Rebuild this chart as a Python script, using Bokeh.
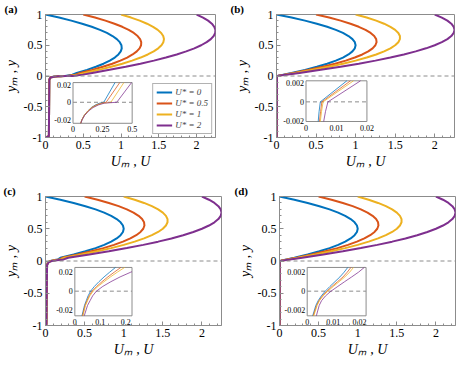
from bokeh.plotting import figure
from bokeh.models import Range1d, Span, Title, FixedTicker, Legend, LegendItem
from bokeh.layouts import column, row
from bokeh.embed import file_html
from bokeh.resources import INLINE
from bokeh.core.properties import value

FONT = "Liberation Serif"
GRAY = "#8c8c8c"
COLORS = ["#0072BD", "#D95319", "#EDB120", "#7E2F8E"]
LEGEND_LABELS = ["U* = 0", "U* = 0.5", "U* = 1", "U* = 2"]

x_ticks = [0, 0.5, 1, 1.5, 2]
x_tick_labels = ["0", "0.5", "1", "1.5", "2"]
y_ticks = [-1, -0.5, 0, 0.5, 1]
y_tick_labels = ["-1", "-0.5", "0", "0.5", "1"]

# ---- free-flow region (y >= 0.05) ----
y_upper = [0.05, 0.10, 0.15, 0.20, 0.25, 0.30, 0.35, 0.40, 0.45, 0.50,
           0.55, 0.60, 0.65, 0.70, 0.75, 0.80, 0.85, 0.90, 0.95, 1.00]
U_upper_a_0 = [0.413, 0.549, 0.667, 0.768, 0.851, 0.917, 0.965, 0.996, 1.009, 1.005,
               0.983, 0.944, 0.887, 0.813, 0.721, 0.612, 0.485, 0.341, 0.179, 0.0]
U_upper_a_05 = [0.457, 0.617, 0.759, 0.884, 0.991, 1.081, 1.153, 1.208, 1.245, 1.265,
                1.267, 1.252, 1.219, 1.169, 1.101, 1.016, 0.913, 0.793, 0.655, 0.5]
U_upper_a_1 = [0.52, 0.703, 0.868, 1.016, 1.146, 1.259, 1.354, 1.432, 1.492, 1.535,
               1.56, 1.568, 1.558, 1.531, 1.486, 1.424, 1.344, 1.247, 1.132, 1.0]
U_upper_a_2 = [0.618, 0.848, 1.061, 1.256, 1.434, 1.594, 1.737, 1.862, 1.970, 2.06,
               2.133, 2.188, 2.226, 2.246, 2.249, 2.234, 2.202, 2.152, 2.085, 2.0]
U_upper_bcd_0 = [0.19, 0.36, 0.51, 0.64, 0.75, 0.84, 0.91, 0.96, 0.99, 1.0,
                 0.99, 0.96, 0.91, 0.84, 0.75, 0.64, 0.51, 0.36, 0.19, 0.0]
U_upper_bcd_05 = [0.215, 0.41, 0.585, 0.74, 0.875, 0.99, 1.085, 1.16, 1.215, 1.25,
                  1.265, 1.26, 1.235, 1.19, 1.125, 1.04, 0.935, 0.81, 0.665, 0.5]
U_upper_bcd_1 = [0.24, 0.46, 0.66, 0.84, 1.0, 1.14, 1.26, 1.36, 1.44, 1.5,
                 1.54, 1.56, 1.56, 1.54, 1.5, 1.44, 1.36, 1.26, 1.14, 1.0]
U_upper_bcd_2 = [0.29, 0.56, 0.81, 1.04, 1.25, 1.44, 1.61, 1.76, 1.89, 2.0,
                 2.09, 2.16, 2.21, 2.24, 2.25, 2.24, 2.21, 2.16, 2.09, 2.0]

# ---- porous region far from the interface ----
far_y_a = [-1.0, -0.98, -0.06]
far_U_a = [0.0, 0.045, 0.05]
far_y_b = [-1.0, -0.99]
far_U_b = [0.0, 0.0035]
far_y_c = [-1.0, -0.98, -0.06]
far_U_c = [0.0, 0.012, 0.02]
far_y_d = [-1.0, -0.99]
far_U_d = [0.0, 0.0015]

# ---- near the interface (shown in the insets) ----
near_y_a = [-0.024, -0.02, -0.015, -0.01, -0.006, -0.003, -0.001, 0.0, 0.0225]
near_U_a_0 = [0.065, 0.075, 0.095, 0.125, 0.155, 0.19, 0.225, 0.26, 0.355]
near_U_a_05 = [0.065, 0.075, 0.095, 0.125, 0.158, 0.197, 0.24, 0.28, 0.395]
near_U_a_1 = [0.065, 0.075, 0.095, 0.127, 0.162, 0.205, 0.255, 0.32, 0.43]
near_U_a_2 = [0.066, 0.077, 0.098, 0.132, 0.17, 0.215, 0.265, 0.37, 0.495]

near_y_b = [-0.00205, -0.001, 0.0, 0.0022]
near_U_b_0 = [0.0040, 0.0043, 0.0047, 0.0134]
near_U_b_05 = [0.0044, 0.0048, 0.0052, 0.0146]
near_U_b_1 = [0.0047, 0.0051, 0.0056, 0.0156]
near_U_b_2 = [0.0058, 0.0064, 0.0072, 0.0179]

near_y_c = [-0.026, -0.015, -0.01, -0.005, 0.0, 0.005, 0.01, 0.015, 0.02, 0.025]
near_y_c_2 = [-0.026, -0.015, -0.01, -0.005, 0.0, 0.005, 0.01, 0.015, 0.02, 0.0205]
near_U_c_0 = [0.028, 0.038, 0.045, 0.052, 0.062, 0.077, 0.095, 0.115, 0.137, 0.160]
near_U_c_05 = [0.030, 0.040, 0.048, 0.056, 0.068, 0.086, 0.107, 0.130, 0.155, 0.181]
near_U_c_1 = [0.032, 0.042, 0.050, 0.059, 0.072, 0.091, 0.115, 0.140, 0.167, 0.196]
near_U_c_2 = [0.037, 0.050, 0.060, 0.070, 0.085, 0.110, 0.142, 0.178, 0.220, 0.225]

near_y_d = [-0.0026, -0.0015, -0.001, -0.0005, 0.0, 0.0005, 0.001, 0.0015, 0.002, 0.0025]
near_U_d_0 = [0.0021, 0.0033, 0.0042, 0.0054, 0.0069, 0.0087, 0.0106, 0.0125, 0.0141, 0.0155]
near_U_d_05 = [0.0023, 0.0036, 0.0045, 0.0058, 0.0075, 0.0095, 0.0116, 0.0137, 0.0153, 0.0167]
near_U_d_1 = [0.0025, 0.0038, 0.0047, 0.0061, 0.0079, 0.0100, 0.0122, 0.0144, 0.0162, 0.0177]
near_U_d_2 = [0.0035, 0.0046, 0.0055, 0.0070, 0.0091, 0.0117, 0.0143, 0.0170, 0.0196, 0.0218]

# inset axes ranges and tick labels
ins_x_a, ins_y_a = (0, 0.5), (-0.024, 0.0225)
ins_x_b, ins_y_b = (0, 0.02), (-0.00205, 0.0022)
ins_x_c, ins_y_c = (0, 0.225), (-0.026, 0.025)
ins_x_d, ins_y_d = (0, 0.0225), (-0.0026, 0.0025)
ins_xt_a, ins_xl_a = [0, 0.25, 0.5], ["0", "0.25", "0.5"]
ins_xt_b, ins_xl_b = [0, 0.01, 0.02], ["0", "0.01", "0.02"]
ins_xt_c, ins_xl_c = [0, 0.1, 0.2], ["0", "0.1", "0.2"]
ins_xt_d, ins_xl_d = [0, 0.01, 0.02], ["0", "0.01", "0.02"]
ins_yt_big, ins_yl_big = [-0.02, 0, 0.02], ["-0.02", "0", "0.02"]
ins_yt_small, ins_yl_small = [-0.002, 0, 0.002], ["-0.002", "0", "0.002"]

XMAX = 2.25


def panel(tag, w, h, borders, far, near, upper, box, ins_x, ins_y,
          ins_xt, ins_xl, ins_yt, ins_yl, tag_dx, legend=False):
    bl, br, bt, bb = borders
    p = figure(width=w, height=h, x_range=Range1d(0, XMAX), y_range=Range1d(-1, 1),
               output_backend="svg", toolbar_location=None,
               min_border_left=bl, min_border_right=br,
               min_border_top=bt, min_border_bottom=bb)
    p.grid.visible = False
    p.outline_line_color = GRAY
    p.outline_line_width = 1
    for ax in (p.xaxis[0], p.yaxis[0]):
        ax.axis_line_color = GRAY
        ax.major_tick_line_color = GRAY
        ax.minor_tick_line_color = GRAY
        ax.major_tick_in = 4
        ax.major_tick_out = 0
        ax.minor_tick_in = 2
        ax.minor_tick_out = 0
        ax.major_label_text_font = FONT
        ax.major_label_text_font_size = "12px"
        ax.major_label_text_color = "black"
        ax.major_label_standoff = 3
        ax.axis_label_text_font = FONT
        ax.axis_label_text_font_size = "14px"
        ax.axis_label_text_font_style = "italic"
        ax.axis_label_text_color = "black"
        ax.axis_label_standoff = 2
    p.xaxis.ticker = FixedTicker(ticks=x_ticks, minor_ticks=[i * 0.1 for i in range(23)])
    p.xaxis.major_label_overrides = dict(zip(x_ticks, x_tick_labels))
    p.yaxis.ticker = FixedTicker(ticks=y_ticks, minor_ticks=[-1 + i * 0.1 for i in range(21)])
    p.yaxis.major_label_overrides = dict(zip(y_ticks, y_tick_labels))
    p.xaxis.axis_label = "Uₘ , U"
    p.yaxis.axis_label = "yₘ , y"

    # panel tag as a left-aligned title pulled into the left margin
    p.add_layout(Title(text=tag, align="left", offset=-(bl - tag_dx), standoff=0,
                       text_font=FONT, text_font_style="bold", text_font_size="11px",
                       text_line_height=0.9, text_color="black"), "above")

    p.add_layout(Span(location=0, dimension="width", line_color=GRAY,
                      line_dash="4 3", line_width=1))

    far_y, far_U = far
    lines = []
    for i in range(4):
        ny, nU = near[i]
        r = p.line(far_U + nU + upper[i], far_y + ny + y_upper,
                   line_color=COLORS[i], line_width=2)
        lines.append(r)

    # inset drawn through its own ranges
    X0, X1, Y0, Y1 = box
    u0, u1 = ins_x
    v0, v1 = ins_y
    kx = (u1 - u0) / (X1 - X0)
    ky = (v1 - v0) / (Y1 - Y0)
    p.extra_x_ranges = {"ins": Range1d(u0 - X0 * kx, u0 + (XMAX - X0) * kx)}
    p.extra_y_ranges = {"ins": Range1d(v0 + (-1 - Y0) * ky, v0 + (1 - Y0) * ky)}
    kw = dict(x_range_name="ins", y_range_name="ins")
    p.quad(left=[u0], right=[u1], bottom=[v0], top=[v1], fill_color="white",
           line_color=GRAY, line_width=1, **kw)
    p.line([u0, u1], [0, 0], line_color=GRAY, line_dash="4 3", line_width=1, **kw)
    for i in range(4):
        ny, nU = near[i]
        p.line(nU, ny, line_color=COLORS[i], line_width=1, line_alpha=0.75, **kw)
    p.text(x=[u0] * len(ins_yt), y=ins_yt, text=ins_yl, text_align="right",
           text_baseline="middle", x_offset=-2, text_font=value(FONT),
           text_font_size="8px", text_color="black", **kw)
    p.text(x=ins_xt, y=[v0] * len(ins_xt), text=ins_xl, text_align="center",
           text_baseline="top", y_offset=3, text_font=value(FONT),
           text_font_size="8px", text_color="black", **kw)

    if legend:
        leg = Legend(items=[LegendItem(label=LEGEND_LABELS[i], renderers=[lines[i]])
                            for i in range(4)], location="bottom_right")
        leg.label_text_font = FONT
        leg.label_text_font_style = "italic"
        leg.label_text_font_size = "9px"
        leg.label_height = 10
        leg.label_width = 10
        leg.glyph_height = 10
        leg.glyph_width = 16
        leg.label_standoff = 3
        leg.spacing = 1
        leg.padding = 3
        leg.margin = 3
        leg.border_line_color = "#666666"
        leg.border_line_width = 1
        leg.background_fill_alpha = 1
        p.add_layout(leg)
    return p


pa = panel("(a)", 229, 181, (41, 14, 0, 44), (far_y_a, far_U_a),
           [(near_y_a, near_U_a_0), (near_y_a, near_U_a_05), (near_y_a, near_U_a_1), (near_y_a, near_U_a_2)],
           [U_upper_a_0, U_upper_a_05, U_upper_a_1, U_upper_a_2],
           (0.364, 1.147, -0.769, -0.107), ins_x_a, ins_y_a,
           ins_xt_a, ins_xl_a, ins_yt_big, ins_yl_big, 0, legend=True)
pb = panel("(b)", 229, 181, (47, 4, 0, 44), (far_y_b, far_U_b),
           [(near_y_b, near_U_b_0), (near_y_b, near_U_b_05), (near_y_b, near_U_b_1), (near_y_b, near_U_b_2)],
           [U_upper_bcd_0, U_upper_bcd_05, U_upper_bcd_1, U_upper_bcd_2],
           (0.373, 1.143, -0.74, -0.078), ins_x_b, ins_y_b,
           ins_xt_b, ins_xl_b, ins_yt_small, ins_yl_small, 1)
pc = panel("(c)", 229, 182, (44, 8, 15, 38), (far_y_c, far_U_c),
           [(near_y_c, near_U_c_0), (near_y_c, near_U_c_05), (near_y_c, near_U_c_1), (near_y_c_2, near_U_c_2)],
           [U_upper_bcd_0, U_upper_bcd_05, U_upper_bcd_1, U_upper_bcd_2],
           (0.375, 1.106, -0.85, -0.1), ins_x_c, ins_y_c,
           ins_xt_c, ins_xl_c, ins_yt_big, ins_yl_big, 2)
pd = panel("(d)", 229, 182, (50, 3, 15, 38), (far_y_d, far_U_d),
           [(near_y_d, near_U_d_0), (near_y_d, near_U_d_05), (near_y_d, near_U_d_1), (near_y_d, near_U_d_2)],
           [U_upper_bcd_0, U_upper_bcd_05, U_upper_bcd_1, U_upper_bcd_2],
           (0.354, 1.107, -0.85, -0.1), ins_x_d, ins_y_d,
           ins_xt_d, ins_xl_d, ins_yt_small, ins_yl_small, 5)

layout = column(row(pa, pb), row(pc, pd))
open("out.html", "w").write(file_html(layout, INLINE))
